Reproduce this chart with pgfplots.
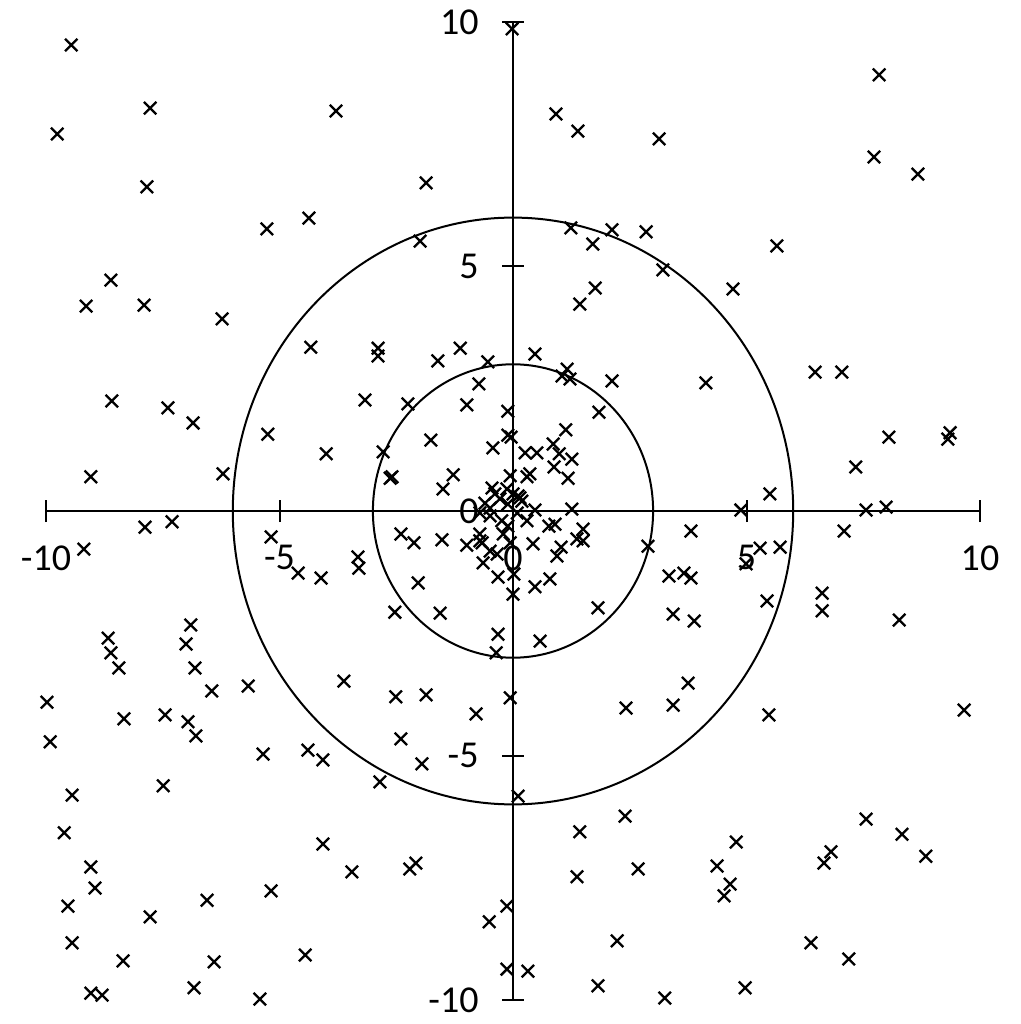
\documentclass[border=0pt]{standalone}
\usepackage{pgfplots}
\pgfplotsset{compat=1.18}
\usepackage{fontspec}
\setmainfont{Carlito}
\begin{document}
\begin{tikzpicture}
\begin{axis}[
  scale only axis, width=467pt, height=489pt,
  xmin=-10, xmax=10, ymin=-10, ymax=10,
  axis lines=middle,
  axis line style={line width=1pt, -},
  xtick={-10,-5,0,5,10}, ytick={-10,-5,0,5,10},
  xticklabels={-10,-5,0,5,10}, yticklabels={-10,-5,0,5,10},
  hide obscured x ticks=false, hide obscured y ticks=false,
  tick align=center, major tick length=11pt,
  tick style={line width=1pt, black},
  ticklabel style={font=\fontsize{19}{21}\selectfont, inner sep=0pt},
  xticklabel style={anchor=north, yshift=-11.5pt},
  yticklabel style={anchor=east, xshift=-11.5pt},
  clip=false,
]
\coordinate (BL) at (rel axis cs:0,0);
\draw[line width=1pt] (axis cs:0,0) ellipse [x radius=3, y radius=3];
\draw[line width=1pt] (axis cs:0,0) ellipse [x radius=6, y radius=6];
\addplot[only marks, mark=x, mark size=4.4pt, line width=1.15pt, black] table {
x y
-9.46 9.53
-7.77 8.24
-9.76 7.71
-7.84 6.63
-5.27 5.77
-4.37 5.99
-3.79 8.18
-1.86 6.71
-1.99 5.52
-8.61 4.72
-9.14 4.19
-7.90 4.21
-6.23 3.93
-8.59 2.25
-7.39 2.11
-6.85 1.80
-9.04 0.70
-5.25 1.57
-6.21 0.76
-4.33 3.35
-4.00 1.17
-2.89 3.33
-2.89 3.17
-3.17 2.27
-1.61 3.07
-1.13 3.33
-0.02 9.86
0.92 8.12
1.39 7.77
3.13 7.61
7.84 8.92
7.73 7.24
8.67 6.89
1.24 5.79
1.71 5.46
2.12 5.75
2.85 5.71
3.21 4.93
5.65 5.42
4.71 4.54
1.76 4.56
1.43 4.23
4.13 2.62
6.47 2.84
7.04 2.84
7.34 0.90
8.05 1.51
9.31 1.47
9.36 1.60
7.56 0.02
7.99 0.08
4.88 0.02
5.50 0.35
7.09 -0.41
5.72 -0.74
5.29 -0.76
4.99 -1.08
3.81 -0.41
3.34 -1.33
3.66 -1.27
3.81 -1.37
3.88 -2.25
3.43 -2.11
5.44 -1.84
6.62 -1.68
6.62 -2.04
8.27 -2.23
9.66 -4.07
5.48 -4.17
3.75 -3.52
3.43 -3.97
2.42 -4.03
1.82 -1.98
0.58 -2.66
1.43 -6.56
2.40 -6.24
1.37 -7.48
2.68 -7.32
0.11 -5.83
4.78 -6.77
4.37 -7.26
4.65 -7.63
4.52 -7.87
7.56 -6.30
8.33 -6.61
8.84 -7.06
6.81 -6.97
6.66 -7.20
2.23 -8.79
1.82 -9.71
3.25 -9.96
4.97 -9.75
6.38 -8.83
7.19 -9.16
-0.13 -8.08
-0.13 -9.37
0.32 -9.41
-0.51 -8.40
-9.19 -0.78
-7.88 -0.33
-7.30 -0.22
-5.18 -0.53
-4.60 -1.27
-4.11 -1.37
-3.32 -0.94
-3.30 -1.17
-2.40 -0.47
-2.12 -0.65
-1.52 -0.59
-0.99 -0.70
-2.03 -1.47
-2.53 -2.07
-1.56 -2.09
-0.32 -2.52
-0.36 -2.90
-0.06 -3.82
-0.79 -4.15
-8.67 -2.60
-8.61 -2.90
-8.44 -3.21
-6.90 -2.33
-7.00 -2.72
-6.81 -3.21
-6.45 -3.68
-5.67 -3.58
-9.98 -3.91
-9.91 -4.72
-8.33 -4.25
-7.45 -4.17
-6.96 -4.31
-6.79 -4.60
-3.62 -3.48
-2.51 -3.80
-1.86 -3.76
-2.40 -4.66
-1.95 -5.17
-5.35 -4.97
-4.39 -4.89
-4.07 -5.09
-2.85 -5.54
-7.49 -5.62
-9.44 -5.81
-9.61 -6.58
-9.04 -7.28
-8.95 -7.71
-9.53 -8.08
-9.44 -8.83
-7.77 -8.30
-8.35 -9.20
-6.55 -7.96
-5.18 -7.77
-4.07 -6.81
-3.45 -7.38
-2.21 -7.32
-2.08 -7.20
-4.45 -9.08
-6.40 -9.22
-6.83 -9.75
-9.04 -9.86
-8.80 -9.90
-5.42 -9.98
-0.54 3.05
-0.73 2.60
-2.25 2.19
-0.99 2.17
-0.11 2.04
-1.76 1.45
-0.11 1.55
-0.04 1.51
-2.78 1.21
-0.43 1.29
-2.59 0.70
-2.63 0.67
-1.28 0.74
-1.50 0.45
-0.06 0.72
-0.45 0.47
0.47 3.21
1.16 2.90
1.05 2.76
1.22 2.70
2.12 2.66
1.84 2.02
1.13 1.66
0.86 1.37
0.26 1.19
0.51 1.19
0.99 1.17
1.26 1.06
0.88 0.90
1.18 0.67
0.30 0.70
0.36 0.76
0.00 0.35
0.15 0.27
0.47 0.02
1.26 0.04
-0.13 0.45
-0.39 0.35
-0.28 0.25
0.11 0.31
0.19 0.20
-0.60 0.16
-0.49 0.06
-0.11 0.14
-0.71 -0.04
-0.49 -0.10
0.09 -0.04
0.30 -0.20
-0.24 -0.20
-0.11 -0.31
0.77 -0.31
0.90 -0.27
-0.71 -0.47
-0.71 -0.61
-0.21 -0.47
-0.66 -0.65
-0.06 -0.65
0.43 -0.67
-0.49 -0.82
-0.34 -0.88
-0.64 -1.06
1.03 -0.74
0.94 -0.92
-0.32 -1.35
0.00 -1.70
0.02 -1.29
1.50 -0.37
1.37 -0.57
1.50 -0.61
2.89 -0.72
0.79 -1.39
0.47 -1.55
};
\end{axis}
\pgfresetboundingbox
\path ([shift={(-23pt,-12pt)}]BL) rectangle ([shift={(487.5pt,500pt)}]BL);
\end{tikzpicture}
\end{document}
